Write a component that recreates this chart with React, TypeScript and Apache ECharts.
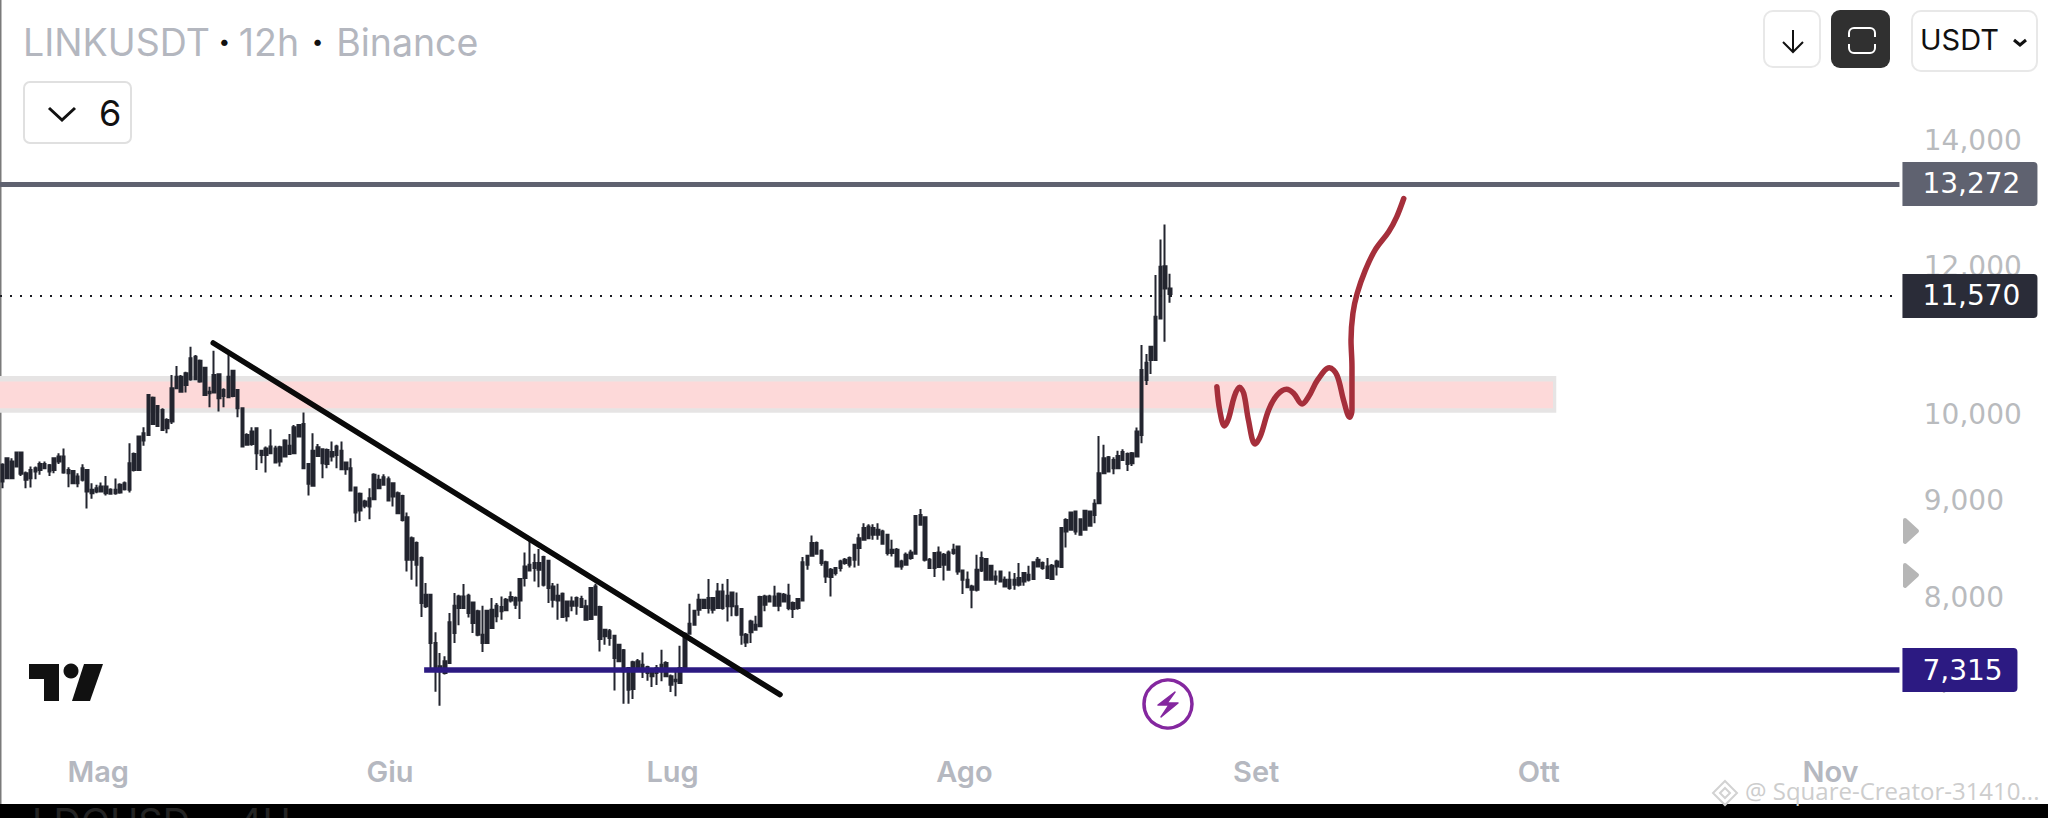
import React, { useEffect, useRef } from "react";
import * as echarts from "echarts";

// [high, body top, body bottom, low], one row per 12h candle
const aprCandles = [
  [9403,9384,9194,9120],[9472,9460,9232,9221],[9460,9422,9232,9221],[9534,9526,9364,9357],[9534,9526,9281,9258],
  [9307,9288,9213,9120],[9364,9326,9232,9127],[9364,9345,9307,9221],[9422,9395,9326,9270],[9422,9395,9345,9334],
  [9395,9380,9307,9258],[9472,9460,9326,9288],[9518,9480,9422,9395],[9574,9480,9296,9281],[9357,9326,9288,9131],
  [9326,9315,9176,9168],[9288,9251,9176,9131],[9391,9345,9213,9194],[9337,9326,9083,8895],[9176,9101,9064,9001],
  [9157,9120,9083,9064],
];
const mayCandles = [
  [9183,9138,9083,9071],[9258,9138,9064,9038],[9120,9101,9057,9046],[9228,9101,9064,9046],[9176,9157,9071,9057],
  [9194,9176,9108,9094],[9636,9403,9101,9071],[9526,9510,9326,9307],[9723,9715,9326,9318],[9827,9755,9668,9605],
  [10236,10223,9735,9727],[10203,10190,9867,9855],[10099,10086,9843,9835],[10058,10037,9795,9783],[9935,9915,9815,9755],
  [10476,10307,9895,9867],[10592,10455,10307,10295],[10476,10455,10265,10253],[10519,10498,10349,10253],[10847,10693,10421,10404],
  [10736,10714,10421,10413],[10679,10662,10392,10379],[10584,10571,10223,10211],[10328,10265,10244,10070],[10793,10476,10253,10244],
  [10498,10485,10182,10017],[10307,10286,10211,10070],[10736,10455,10194,10182],[10540,10531,10211,10194],[10295,10286,10058,9948],
  [10070,10058,9597,9589],[9755,9735,9617,9605],[9827,9775,9628,9605],[9827,9815,9518,9326],[9557,9549,9499,9403],
  [9597,9574,9499,9296],[9803,9597,9518,9510],[9605,9574,9411,9403],[9605,9589,9422,9364],[9683,9668,9480,9472],
  [9747,9605,9510,9499],[9855,9827,9518,9506],[9867,9855,9715,9707],[10005,9867,9345,9334],[9403,9395,9168,9038],
  [9755,9549,9146,9138],[9628,9589,9487,9480],[9574,9565,9403,9232],[9574,9557,9395,9345],[9656,9534,9480,9422],
  [9617,9597,9499,9345],[9656,9549,9334,9326],[9422,9411,9334,9270],[9460,9345,9094,9083],[9138,9127,8852,8747],
  [9071,9057,8873,8761],[8990,8971,8924,8899],[9120,9008,8917,8780],[9288,9270,8997,8990],[9270,9213,9120,9108],
  [9277,9243,9157,9146],[9251,9221,8983,8971],
];
const junCandles = [
  [9187,9176,9027,8917],[9083,9064,8844,8834],[9046,9034,8772,8754],[8852,8801,8354,8235],[8595,8578,8354,8152],
  [8543,8526,8303,8085],[8388,8371,7922,7788],[8118,8003,7890,7874],[8013,8003,7543,7301],[7643,7543,7301,7107],
  [7451,7331,7286,6986],[7421,7376,7271,7257],[7826,7737,7361,7355],[8020,7896,7636,7543],[8003,7987,7874,7709],
  [8108,7987,7874,7864],[8013,7994,7826,7784],[7938,7928,7731,7636],[7858,7842,7621,7605],[7896,7621,7543,7460],
  [7858,7848,7543,7537],[7971,7858,7683,7674],[7922,7896,7794,7737],[7987,7884,7842,7762],[7971,7955,7852,7842],
  [8036,7981,7948,7928],[7987,7971,7906,7864],[8168,8158,7948,7768],[8429,8286,8168,8085],[8560,8303,8245,8235],
  [8415,8320,8269,8135],[8464,8320,8252,8078],[8395,8381,8102,8085],[8354,8344,8069,7922],[8118,8085,7955,7880],
  [8112,7994,7948,7762],[8026,8013,7788,7778],[7948,7938,7794,7746],[7987,7938,7896,7842],[7987,7971,7896,7810],
  [7994,7961,7884,7874],[7955,7890,7762,7756],[8078,8069,7768,7762],[8112,8085,7810,7800],[7896,7884,7580,7466],
  [7674,7668,7605,7528],[7674,7652,7590,7519],[7621,7611,7406,7116],[7537,7528,7376,7367],[7488,7476,7286,7003],
  [7325,7316,7124,7003],[7382,7367,7130,7044],[7397,7376,7316,7286],[7457,7346,7286,7227],[7337,7325,7271,7203],
  [7307,7295,7242,7147],[7343,7316,7271,7165],[7482,7346,7286,7197],[7376,7361,7242,7236],[7257,7242,7168,7104],
];
const julCandles = [
  [7301,7212,7197,7067],[7519,7316,7183,7177],[7643,7630,7316,7301],[7916,7724,7630,7621],[7858,7848,7715,7709],
  [8013,7955,7858,7800],[7961,7955,7874,7864],[8158,7971,7874,7820],[7981,7971,7858,7820],[8118,8036,7874,7864],
  [8112,8036,7874,7858],[8158,7994,7890,7746],[8036,8026,7890,7794],[8026,7890,7810,7794],[7874,7864,7621,7528],
  [7636,7621,7549,7506],[7762,7746,7643,7543],[7800,7715,7668,7661],[7994,7981,7699,7693],[8003,7987,7906,7842],
  [8003,7987,7938,7928],[8092,7987,7896,7890],[8026,8013,7896,7842],[8020,8003,7938,7928],[8112,7994,7874,7852],
  [7938,7922,7864,7778],[7971,7961,7874,7858],[8381,8327,7948,7938],[8405,8395,8303,8252],[8606,8526,8395,8388],
  [8543,8526,8415,8405],[8463,8446,8320,8293],[8344,8327,8185,8118],[8269,8252,8179,7987],[8279,8269,8219,8195],
  [8354,8337,8269,8235],[8371,8354,8320,8303],[8388,8371,8303,8276],[8519,8509,8354,8276],[8623,8578,8474,8293],
  [8737,8684,8560,8553],[8726,8701,8578,8571],[8726,8684,8613,8560],[8737,8666,8613,8560],[8666,8648,8519,8509],
  [8623,8613,8422,8398],[8560,8457,8422,8388],[8474,8457,8286,8279],[8354,8337,8286,8252],[8429,8405,8303,8293],
  [8457,8429,8371,8354],[8826,8815,8415,8405],[8891,8826,8719,8708],[8808,8801,8354,8337],[8371,8354,8269,8259],
  [8429,8422,8269,8179],[8491,8429,8279,8269],[8422,8405,8303,8145],[8450,8429,8252,8245],[8519,8457,8422,8405],
  [8498,8491,8235,8202],[8252,8245,8152,8010],
];
const augCandles = [
  [8235,8152,8078,8069],[8102,8085,8052,7871],[8405,8252,8052,8036],[8439,8371,8245,8229],[8371,8361,8152,8145],
  [8303,8293,8152,8142],[8245,8185,8152,8102],[8245,8235,8135,8129],[8185,8152,8085,8078],[8235,8152,8069,8052],
  [8219,8152,8102,8052],[8320,8168,8102,8085],[8225,8219,8135,8092],[8293,8202,8152,8135],[8337,8327,8158,8152],
  [8381,8354,8286,8279],[8337,8320,8269,8252],[8371,8286,8168,8158],[8310,8293,8158,8152],[8354,8337,8286,8195],
  [8694,8684,8279,8269],[8790,8772,8648,8481],[8862,8852,8666,8659],[8873,8862,8648,8613],[8790,8780,8613,8606],
  [8880,8870,8666,8659],[8873,8862,8708,8701],[8997,8946,8826,8737],[9723,9288,8953,8946],[9617,9460,9288,9281],
  [9487,9472,9307,9296],[9472,9441,9345,9277],[9549,9487,9345,9334],[9565,9534,9441,9430],[9526,9510,9395,9315],
  [9534,9518,9403,9372],[9823,9775,9480,9472],[10869,10540,9735,9636],[10750,10636,10413,10349],[10856,10847,10671,10489],
  [11841,11252,10671,10662],[12370,11962,11229,11215],[12599,11970,11649,10913],[11861,11649,11570,11446],
];

const priceTicks = [8000, 9000, 10000, 12000, 14000];
const monthNames = ["Mag", "Giu", "Lug", "Ago", "Set", "Ott", "Nov"];
const monthKeys = ["05", "06", "07", "08", "09", "10", "11"];

const resistanceLevel = 13272;
const lastPrice = 11570;
const supportLevel = 7315;

// zone and hand-drawn strokes: [candle position, price]
const zoneOuter = [10465, 10003];
const zoneInner = [10392, 10058];
const trendLine = [[44.8, 10896], [165.2, 7081]];
const handDrawnPath = [
  [258.0,10328],[258.6,10037],[259.6,9843],[260.5,9935],[261.7,10203],[262.8,10319],[263.7,10244],[264.7,9915],
  [266.1,9628],[267.2,9715],[269.0,10037],[270.8,10223],[272.8,10295],[274.3,10244],[276.1,10111],[277.5,10203],
  [279.4,10413],[281.9,10571],[283.5,10476],[284.9,10161],[286.2,9948],[286.7,10037],[286.7,10584],[286.5,10935],
  [286.9,11298],[287.8,11576],[289.5,11906],[291.6,12209],[294.5,12487],[296.2,12718],[297.7,13007],
];

// the readings above were taken against the printed scale labels, which sit a hair above the true price lines
const scaleCorrection = 1.0024;

const FONT = "Inter, 'Noto Sans', sans-serif";
const PRICE_FONT = "'DejaVu Sans', Inter, sans-serif";
const CANDLE = "#23252f";
const BANDS = 404;

function buildCategories() {
  const out: string[] = [];
  const start = Date.UTC(2025, 3, 20, 12);
  for (let i = 0; i < BANDS; i++) {
    out.push(new Date(start + i * 12 * 3600 * 1000).toISOString().slice(0, 16));
  }
  return out;
}

echarts.graphic.registerShape(
  "focusIcon",
  echarts.graphic.extendPath(
    "M1849 37 V33 A5 5 0 0 1 1854 28 H1870 A5 5 0 0 1 1875 33 V37 M1849 44 V48 A5 5 0 0 0 1854 53 H1870 A5 5 0 0 0 1875 48 V44",
    {}
  )
);

function levelLine(value: number, color: string, width: number, type: any, tagWidth: number, from: number, tagColor: string) {
  return [
    {
      coord: [from, value],
      lineStyle: { color, width, type, opacity: 1 },
      label: {
        show: true,
        position: "end",
        distance: 3,
        formatter: value.toLocaleString("en-US"),
        color: "#ffffff",
        fontFamily: PRICE_FONT,
        fontSize: 28,
        fontWeight: 400,
        backgroundColor: tagColor,
        borderRadius: [0, 4, 4, 0],
        width: tagWidth - 20,
        align: "left",
        padding: [9, 0, 7, 20],
      },
    },
    { coord: [403, value] },
  ];
}

const outlined = { fill: "#ffffff", stroke: "#e8e8e8", lineWidth: 2 };

const furniture: any[] = [
  { type: "rect", z: 1, shape: { x: 0, y: 0, width: 1.5, height: 804 }, style: { fill: "#7a7a7a" } },
  { type: "rect", z: 1, shape: { x: 0, y: 804, width: 2048, height: 14 }, style: { fill: "#000000" } },
  { type: "text", z: 2, x: 32, y: 803, style: { text: "LDOUSD", font: `38px ${FONT}`, fill: "#242424" } },
  { type: "text", z: 2, x: 238, y: 803, style: { text: "4H", font: `38px ${FONT}`, fill: "#242424" } },
  // indicators button
  { type: "rect", z: 1, shape: { x: 24, y: 82, width: 107, height: 61, r: 6 }, style: { ...outlined, stroke: "#e0e0e0" } },
  { type: "polyline", z: 2, shape: { points: [[49, 108], [62, 120], [75, 108]] }, style: { fill: "none", stroke: "#111111", lineWidth: 3 } },
  { type: "text", z: 2, x: 99, y: 95, style: { text: "6", font: `36px ${FONT}`, fill: "#111111" } },
  // top-right buttons
  { type: "rect", z: 1, shape: { x: 1764, y: 11, width: 56, height: 56, r: 9 }, style: outlined },
  { type: "polyline", z: 2, shape: { points: [[1793, 30], [1793, 52]] }, style: { fill: "none", stroke: "#111111", lineWidth: 2 } },
  { type: "polyline", z: 2, shape: { points: [[1783, 42], [1793, 52], [1803, 42]] }, style: { fill: "none", stroke: "#111111", lineWidth: 2 } },
  { type: "rect", z: 1, shape: { x: 1831, y: 10, width: 59, height: 58, r: 9 }, style: { fill: "#303030" } },
  { type: "focusIcon", z: 2, x: 0, y: 0, style: { fill: "none", stroke: "#ffffff", lineWidth: 2 } },
  { type: "rect", z: 1, shape: { x: 1912, y: 11, width: 125, height: 60, r: 9 }, style: outlined },
  { type: "text", z: 2, x: 1920, y: 25, style: { text: "USDT", font: `29px ${FONT}`, fill: "#111111" } },
  { type: "polyline", z: 2, shape: { points: [[2014, 40], [2020, 45], [2026, 40]] }, style: { fill: "none", stroke: "#111111", lineWidth: 3 } },
  // TradingView mark
  { type: "polygon", z: 1, shape: { points: [[29, 664], [59, 664], [59, 701], [44, 701], [44, 679], [29, 679]] }, style: { fill: "#111111" } },
  { type: "circle", z: 1, shape: { cx: 71, cy: 671, r: 7.5 }, style: { fill: "#111111" } },
  { type: "polygon", z: 1, shape: { points: [[84, 664], [103, 664], [90, 701], [72, 701]] }, style: { fill: "#111111" } },
  // event marker
  { type: "circle", z: 1, shape: { cx: 1168, cy: 704, r: 24 }, style: { fill: "#ffffff", stroke: "#84279f", lineWidth: 3.5 } },
  { type: "polygon", z: 2, shape: { points: [[1175, 692], [1158, 705], [1169, 705], [1161, 717], [1178, 703], [1167, 703]] }, style: { fill: "#84279f", stroke: "#84279f", lineWidth: 1.5, lineJoin: "round" } },
  // collapsed markers on the scale
  { type: "polygon", z: 1, shape: { points: [[1905, 520], [1917, 531], [1905, 542]] }, style: { fill: "#b6b6b6", stroke: "#b6b6b6", lineWidth: 4, lineJoin: "round" } },
  { type: "polygon", z: 1, shape: { points: [[1905, 565], [1917, 575], [1905, 586]] }, style: { fill: "#b6b6b6", stroke: "#b6b6b6", lineWidth: 4, lineJoin: "round" } },
  // label hidden behind the support tag
  { type: "text", z: 1, x: 1923, y: 666, style: { text: "7,000", font: `28px ${PRICE_FONT}`, fill: "#b9bbbe" } },
  // watermark
  { type: "polygon", z: 3, shape: { points: [[1725, 781], [1737, 793], [1725, 805], [1713, 793]] }, style: { fill: "none", stroke: "#d2d2d2", lineWidth: 2 } },
  { type: "polygon", z: 3, shape: { points: [[1725, 788], [1730, 793], [1725, 798], [1720, 793]] }, style: { fill: "none", stroke: "#d2d2d2", lineWidth: 2 } },
  { type: "text", z: 3, x: 1745, y: 778, style: { text: "@ Square-Creator-31410...", font: `24px 'Open Sans', sans-serif`, fill: "#cdcdcd" } },
];

export default function App() {
  const ref = useRef<HTMLDivElement>(null);
  useEffect(() => {
    const chart = echarts.init(ref.current!, null, { renderer: "svg" });
    const candles = [...aprCandles, ...mayCandles, ...junCandles, ...julCandles, ...augCandles];
    const categories = buildCategories();
    const fix = (v: number) => v * scaleCorrection;
    const isMonthStart = (value: string) => value.slice(8, 16) === "01T00:00" && monthKeys.includes(value.slice(5, 7));
    chart.setOption({
      animation: false,
      backgroundColor: "#ffffff",
      textStyle: { fontFamily: FONT },
      title: {
        left: 18,
        top: 18,
        text: "{g|LINKUSDT}{d|·}{g|12h}{e|·}{g|Binance}",
        textStyle: {
          rich: {
            g: { fontFamily: FONT, fontSize: 37.5, fontWeight: 400, color: "#b4b7bf" },
            d: { fontFamily: FONT, fontSize: 38, fontWeight: 700, color: "#111111", width: 29, align: "center" },
            e: { fontFamily: FONT, fontSize: 38, fontWeight: 700, color: "#111111", width: 37, align: "center" },
          },
        },
      },
      grid: { left: -1, top: 60, width: 1902.8, height: 680, containLabel: false },
      xAxis: [
        {
          type: "category",
          data: categories,
          boundaryGap: true,
          axisLine: { show: false },
          axisTick: { show: false },
          splitLine: { show: false },
          axisLabel: {
            interval: (_: number, value: string) => isMonthStart(value),
            formatter: (value: string) => monthNames[monthKeys.indexOf(value.slice(5, 7))],
            color: "#b5b8c0",
            fontFamily: FONT,
            fontSize: 29,
            fontWeight: 600,
            margin: 17,
            padding: [0, 6, 0, 0],
            hideOverlap: false,
          },
        },
        { type: "value", show: false, min: -0.5, max: BANDS - 0.5, splitLine: { show: false } },
      ],
      yAxis: {
        type: "log",
        position: "right",
        min: 6714,
        max: 15450,
        axisLine: { show: false },
        axisTick: { show: false },
        splitLine: { show: false },
        axisLabel: {
          customValues: priceTicks,
          formatter: (v: number) => Number(v).toLocaleString("en-US"),
          color: "#b9bbbe",
          fontFamily: PRICE_FONT,
          fontSize: 28,
          margin: 22,
          padding: [0, 0, 6, 0],
          showMinLabel: true,
          showMaxLabel: true,
        },
      },
      series: [
        {
          type: "candlestick",
          xAxisIndex: 0,
          yAxisIndex: 0,
          z: 3,
          barWidth: 3,
          itemStyle: { color: CANDLE, color0: CANDLE, borderColor: CANDLE, borderColor0: CANDLE, borderWidth: 2 },
          data: candles.map(([h, t, b, l]) => [fix(b), fix(t), fix(l), fix(h)]),
        },
        {
          type: "line",
          xAxisIndex: 1,
          yAxisIndex: 0,
          z: 2,
          data: [],
          symbol: "none",
          markArea: {
            silent: true,
            data: [
              [
                { coord: [-0.5, fix(zoneOuter[0])], itemStyle: { color: "#e6e4e4" } },
                { coord: [330.1, fix(zoneOuter[1])] },
              ],
              [
                { coord: [-0.5, fix(zoneInner[0])], itemStyle: { color: "#fdd9d9" } },
                { coord: [329.4, fix(zoneInner[1])] },
              ],
            ],
          },
        },
        {
          type: "line",
          xAxisIndex: 1,
          yAxisIndex: 0,
          z: 6,
          data: [],
          symbol: "none",
          markLine: {
            silent: true,
            symbol: "none",
            precision: 0,
            data: [
              levelLine(resistanceLevel, "#5f6270", 5, "solid", 135, -0.5, "#5f6270"),
              levelLine(lastPrice, "#1b1c22", 2, [2, 8], 135, -0.5, "#2a2c38"),
              levelLine(supportLevel, "#2c1a82", 5.5, "solid", 115, 89.6, "#2c1a82"),
            ],
          },
        },
        {
          type: "line",
          xAxisIndex: 1,
          yAxisIndex: 0,
          z: 7,
          data: trendLine.map(([x, p]) => [x, fix(p)]),
          symbol: "none",
          lineStyle: { color: "#0a0a0a", width: 5.5, cap: "round" },
        },
        {
          type: "line",
          xAxisIndex: 1,
          yAxisIndex: 0,
          z: 7,
          data: handDrawnPath.map(([x, p]) => [x, fix(p)]),
          symbol: "none",
          smooth: 0.35,
          lineStyle: { color: "#a52f3b", width: 5.5, cap: "round", join: "round" },
        },
      ],
      graphic: furniture,
    });
    return () => chart.dispose();
  }, []);
  return <div ref={ref} style={{ position: "absolute", left: 0, top: 0, width: 2048, height: 818, overflow: "hidden" }} />;
}
